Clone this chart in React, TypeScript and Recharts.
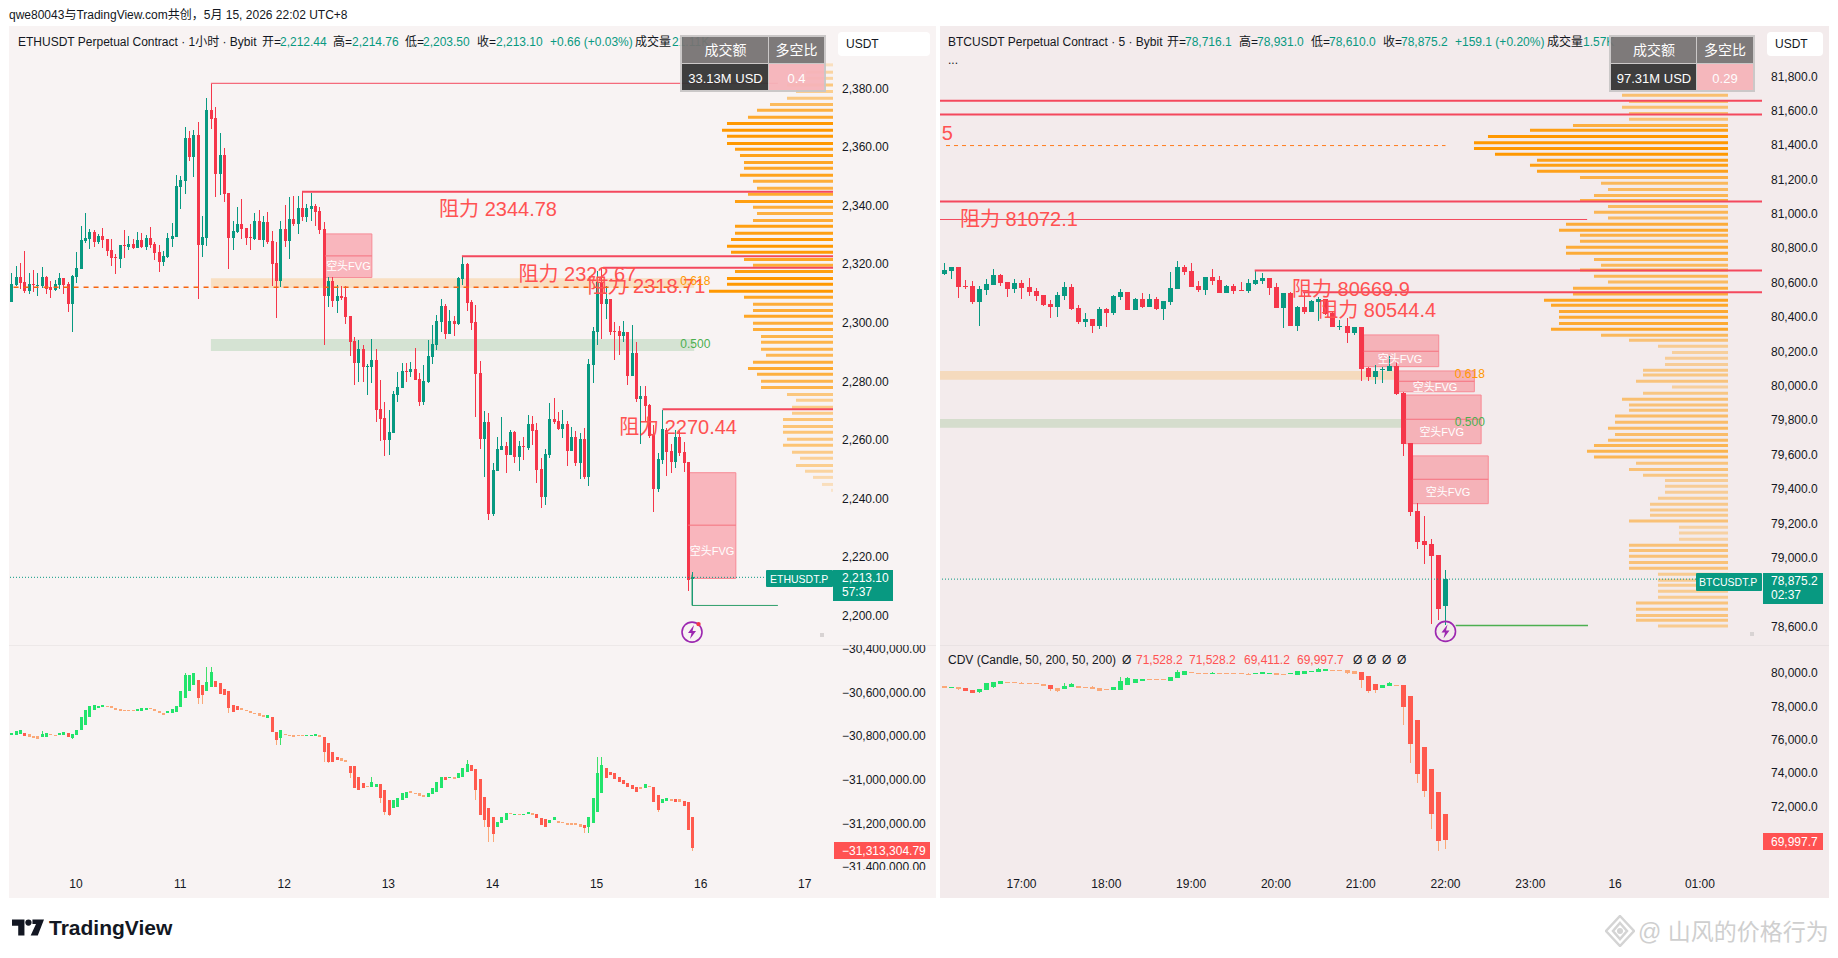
import React from 'react';
import { ComposedChart, Bar, XAxis, YAxis, ReferenceLine, ReferenceArea, ReferenceDot } from 'recharts';

const FONT = "'Liberation Sans','Noto Sans CJK SC',sans-serif";
const RED = '#f5364a';
const GREEN = '#089981';
const LINE = '#f4485d';

// ETH 1h candles: open, high, low, close
const ethOhlc = [
[2307.0,2317.0,2307.0,2313.2],[2312.8,2319.3,2312.5,2315.6],[2315.6,2320.3,2311.5,2313.5],[2313.9,2324.4,2310.1,2310.8],[2310.8,2316.9,2309.8,2313.2],[2313.2,2317.9,2310.4,2312.8],[2312.5,2316.9,2309.1,2312.8],[2312.5,2319.0,2311.8,2315.6],[2315.6,2315.9,2309.8,2311.5],[2312.1,2314.2,2308.4,2311.1],
[2311.1,2314.5,2310.8,2313.2],[2312.8,2316.9,2311.5,2315.2],[2315.2,2315.2,2309.8,2312.8],[2313.2,2313.9,2303.6,2306.3],[2306.3,2316.2,2296.8,2315.9],[2315.6,2324.1,2313.5,2318.6],[2318.3,2333.0,2318.3,2328.2],[2327.8,2337.4,2327.2,2328.9],[2328.5,2331.9,2325.1,2330.9],[2330.9,2331.6,2325.8,2327.5],
[2327.5,2330.2,2326.8,2329.6],[2329.6,2332.3,2325.5,2328.2],[2328.5,2328.5,2322.7,2324.4],[2324.8,2328.5,2319.3,2322.0],[2322.4,2323.4,2316.6,2322.0],[2321.7,2326.5,2318.6,2326.5],[2326.5,2331.6,2322.0,2326.1],[2325.8,2329.6,2324.8,2326.8],[2326.8,2328.5,2325.1,2325.5],[2325.5,2330.9,2325.5,2328.2],
[2328.2,2330.6,2325.5,2325.8],[2325.8,2329.9,2324.8,2328.9],[2328.9,2332.6,2325.5,2326.5],[2326.8,2327.5,2321.4,2323.8],[2324.1,2326.5,2317.3,2320.7],[2320.7,2324.4,2319.3,2322.7],[2322.4,2330.6,2322.0,2328.9],[2328.5,2334.0,2325.8,2329.6],[2329.2,2350.4,2329.2,2346.6],[2346.3,2350.0,2338.8,2348.7],
[2348.3,2366.8,2343.9,2363.0],[2363.0,2365.4,2355.2,2356.5],[2356.5,2365.7,2349.7,2364.0],[2364.0,2368.5,2308.0,2326.5],[2326.5,2336.4,2322.4,2329.2],[2328.9,2376.7,2326.1,2372.6],[2372.6,2381.6,2366.1,2369.5],[2369.8,2373.6,2342.9,2350.7],[2350.7,2364.7,2343.6,2357.2],[2357.2,2359.6,2341.2,2343.9],
[2344.2,2344.2,2318.3,2328.9],[2328.9,2334.7,2324.8,2331.3],[2330.9,2339.5,2330.6,2333.7],[2333.7,2342.2,2328.6,2332.0],[2332.3,2332.3,2326.5,2328.9],[2329.3,2333.7,2324.8,2328.9],[2328.6,2337.4,2328.2,2334.7],[2334.7,2338.5,2328.2,2328.2],[2328.2,2336.4,2325.8,2334.4],[2334.4,2337.8,2326.9,2327.5],
[2327.9,2331.3,2312.5,2320.0],[2320.4,2327.5,2301.6,2314.2],[2314.2,2334.6,2312.2,2332.0],[2332.0,2340.2,2325.8,2327.9],[2327.9,2342.9,2321.7,2335.4],[2335.4,2343.3,2333.0,2333.7],[2333.7,2343.3,2330.3,2339.2],[2339.2,2344.8,2334.7,2336.1],[2336.1,2340.5,2334.4,2339.2],[2338.8,2344.3,2334.7,2339.8],
[2339.8,2340.5,2333.0,2337.8],[2338.1,2339.5,2330.3,2331.6],[2332.0,2334.4,2292.4,2309.1],[2309.1,2315.6,2305.4,2314.2],[2314.2,2315.6,2305.4,2307.4],[2307.4,2312.9,2303.3,2309.1],[2309.1,2312.5,2307.7,2308.4],[2308.8,2312.5,2299.6,2301.9],[2302.3,2302.3,2288.6,2293.4],[2293.7,2295.1,2278.7,2286.2],
[2286.2,2294.1,2279.7,2291.0],[2291.0,2292.4,2279.7,2284.9],[2284.9,2285.9,2275.3,2285.2],[2284.9,2294.4,2279.4,2287.3],[2287.3,2291.0,2266.1,2270.2],[2270.5,2280.4,2259.6,2267.1],[2267.5,2272.9,2254.5,2260.0],[2260.0,2270.2,2254.8,2262.7],[2262.3,2276.7,2262.3,2275.7],[2275.3,2283.2,2272.9,2278.0],
[2277.7,2286.2,2277.7,2283.5],[2283.5,2286.2,2279.7,2283.2],[2283.2,2286.6,2281.5,2284.2],[2284.2,2291.4,2280.4,2280.4],[2280.8,2282.8,2271.6,2272.9],[2272.9,2285.6,2271.9,2280.1],[2279.7,2294.1,2279.4,2288.6],[2288.3,2299.2,2285.9,2292.7],[2292.4,2302.6,2290.7,2300.6],[2300.2,2308.1,2296.8,2305.7],
[2305.7,2306.4,2294.4,2296.1],[2296.1,2304.3,2296.1,2300.6],[2300.6,2302.3,2295.5,2299.6],[2299.6,2315.6,2299.2,2315.3],[2314.9,2322.4,2312.9,2320.0],[2320.0,2320.4,2304.0,2306.7],[2307.0,2307.7,2297.5,2299.9],[2300.2,2306.0,2267.8,2282.5],[2282.8,2286.9,2256.8,2260.3],[2260.3,2269.8,2247.3,2266.1],
[2266.1,2269.1,2232.6,2234.7],[2234.7,2252.1,2234.0,2249.7],[2249.3,2260.9,2249.3,2256.8],[2256.5,2267.8,2256.5,2257.9],[2257.9,2259.2,2248.7,2254.8],[2254.8,2263.3,2254.8,2262.6],[2262.6,2263.0,2252.1,2254.1],[2254.1,2259.6,2249.3,2257.9],[2257.9,2260.9,2253.1,2257.5],[2257.2,2268.5,2256.5,2265.4],
[2265.4,2268.1,2258.2,2263.0],[2263.3,2265.7,2245.2,2249.7],[2250.0,2253.8,2236.7,2240.5],[2240.5,2256.8,2237.7,2255.1],[2254.8,2272.6,2253.8,2267.1],[2267.1,2274.3,2265.4,2266.1],[2266.4,2269.5,2263.3,2263.7],[2263.7,2270.2,2260.6,2265.4],[2265.4,2266.4,2251.0,2256.2],[2256.2,2264.4,2256.2,2260.9],
[2260.9,2263.0,2251.0,2252.1],[2252.1,2262.3,2246.6,2260.3],[2260.3,2264.0,2246.6,2247.3],[2247.3,2287.6,2244.2,2285.9],[2285.5,2298.5,2279.4,2297.1],[2296.8,2317.6,2292.4,2313.9],[2313.9,2318.7,2294.4,2306.4],[2306.4,2312.5,2301.2,2308.1],[2308.1,2308.1,2295.8,2296.8],[2297.1,2300.2,2287.2,2296.8],
[2297.1,2298.8,2288.9,2295.4],[2295.4,2300.5,2293.4,2296.8],[2296.8,2296.8,2278.7,2281.8],[2281.8,2299.2,2281.8,2289.6],[2289.6,2293.4,2272.9,2273.9],[2273.9,2278.4,2258.6,2274.9],[2274.9,2278.4,2266.4,2271.5],[2271.9,2272.2,2260.6,2261.3],[2261.6,2265.0,2235.3,2243.2],[2243.2,2255.5,2242.2,2253.4],
[2253.1,2270.2,2251.7,2263.7],[2263.3,2264.0,2247.6,2255.8],[2256.2,2258.6,2248.7,2252.4],[2252.4,2263.3,2250.4,2260.9],[2260.9,2263.0,2254.5,2255.5],[2255.8,2259.2,2249.0,2252.1],[2252.4,2252.4,2208.4,2212.1],[2212.44,2214.76,2203.5,2213.1],
];

// ETH CDV candles, in millions
const cdvEth = [
[-30.796,-30.784,-30.796,-30.784],[-30.794,-30.776,-30.794,-30.776],[-30.790,-30.771,-30.790,-30.774],[-30.784,-30.784,-30.799,-30.799],[-30.790,-30.790,-30.802,-30.802],[-30.799,-30.799,-30.807,-30.807],[-30.799,-30.799,-30.811,-30.811],[-30.805,-30.776,-30.805,-30.790],[-30.802,-30.784,-30.802,-30.784],[-30.790,-30.790,-30.796,-30.796],
[-30.793,-30.793,-30.799,-30.799],[-30.796,-30.787,-30.796,-30.787],[-30.796,-30.781,-30.796,-30.781],[-30.787,-30.787,-30.805,-30.805],[-30.810,-30.790,-30.813,-30.790],[-30.796,-30.771,-30.796,-30.771],[-30.774,-30.713,-30.774,-30.713],[-30.748,-30.680,-30.748,-30.680],[-30.713,-30.661,-30.713,-30.661],[-30.680,-30.658,-30.680,-30.658],
[-30.673,-30.660,-30.673,-30.660],[-30.667,-30.658,-30.667,-30.658],[-30.661,-30.661,-30.666,-30.666],[-30.664,-30.664,-30.670,-30.670],[-30.670,-30.670,-30.680,-30.680],[-30.677,-30.677,-30.684,-30.684],[-30.680,-30.680,-30.686,-30.686],[-30.680,-30.680,-30.686,-30.686],[-30.681,-30.681,-30.684,-30.684],[-30.684,-30.677,-30.684,-30.677],
[-30.683,-30.673,-30.683,-30.673],[-30.680,-30.672,-30.680,-30.672],[-30.673,-30.673,-30.677,-30.677],[-30.677,-30.677,-30.686,-30.686],[-30.686,-30.686,-30.695,-30.695],[-30.692,-30.692,-30.703,-30.703],[-30.695,-30.687,-30.695,-30.687],[-30.693,-30.677,-30.693,-30.677],[-30.689,-30.661,-30.689,-30.661],[-30.667,-30.592,-30.667,-30.592],
[-30.626,-30.511,-30.626,-30.519],[-30.591,-30.519,-30.591,-30.519],[-30.565,-30.511,-30.565,-30.511],[-30.542,-30.542,-30.652,-30.626],[-30.565,-30.565,-30.652,-30.611],[-30.595,-30.485,-30.595,-30.550],[-30.573,-30.485,-30.573,-30.508],[-30.545,-30.545,-30.573,-30.573],[-30.557,-30.557,-30.606,-30.606],[-30.585,-30.585,-30.611,-30.611],
[-30.595,-30.595,-30.692,-30.672],[-30.657,-30.657,-30.690,-30.690],[-30.661,-30.661,-30.680,-30.680],[-30.672,-30.672,-30.680,-30.680],[-30.680,-30.680,-30.687,-30.687],[-30.686,-30.686,-30.695,-30.695],[-30.692,-30.692,-30.698,-30.698],[-30.695,-30.695,-30.707,-30.707],[-30.703,-30.703,-30.713,-30.713],[-30.718,-30.704,-30.718,-30.704],
[-30.713,-30.713,-30.779,-30.779],[-30.779,-30.779,-30.840,-30.817],[-30.810,-30.771,-30.840,-30.771],[-30.790,-30.790,-30.796,-30.796],[-30.794,-30.794,-30.799,-30.799],[-30.796,-30.796,-30.802,-30.802],[-30.796,-30.796,-30.799,-30.799],[-30.796,-30.796,-30.800,-30.800],[-30.800,-30.796,-30.800,-30.796],[-30.799,-30.794,-30.799,-30.794],
[-30.799,-30.790,-30.799,-30.790],[-30.796,-30.796,-30.805,-30.805],[-30.802,-30.802,-30.917,-30.871],[-30.833,-30.833,-30.921,-30.917],[-30.871,-30.871,-30.917,-30.917],[-30.894,-30.894,-30.909,-30.909],[-30.901,-30.901,-30.912,-30.912],[-30.909,-30.909,-30.917,-30.917],[-30.937,-30.937,-30.993,-30.970],[-30.937,-30.937,-31.039,-31.039],
[-30.986,-30.986,-31.047,-31.047],[-31.013,-31.013,-31.039,-31.039],[-31.028,-31.028,-31.035,-31.035],[-31.032,-30.989,-31.032,-31.009],[-31.032,-31.019,-31.032,-31.019],[-31.021,-31.021,-31.108,-31.085],[-31.047,-31.047,-31.162,-31.146],[-31.093,-31.093,-31.166,-31.162],[-31.131,-31.093,-31.131,-31.093],[-31.123,-31.085,-31.123,-31.085],
[-31.093,-31.059,-31.093,-31.059],[-31.085,-31.054,-31.085,-31.054],[-31.053,-31.053,-31.062,-31.062],[-31.059,-31.059,-31.065,-31.065],[-31.062,-31.062,-31.074,-31.074],[-31.070,-31.070,-31.077,-31.077],[-31.077,-31.062,-31.077,-31.062],[-31.065,-31.039,-31.065,-31.039],[-31.054,-31.009,-31.054,-31.009],[-31.039,-30.986,-31.039,-30.986],
[-30.986,-30.986,-31.001,-31.001],[-30.993,-30.986,-30.993,-30.986],[-30.989,-30.989,-30.995,-30.995],[-30.993,-30.970,-30.993,-30.970],[-30.986,-30.947,-30.986,-30.947],[-30.963,-30.909,-30.963,-30.927],[-30.932,-30.932,-30.958,-30.958],[-30.952,-30.952,-31.093,-31.047],[-30.996,-30.996,-31.162,-31.162],[-31.077,-31.077,-31.215,-31.184],
[-31.131,-31.131,-31.284,-31.215],[-31.169,-31.169,-31.284,-31.249],[-31.215,-31.192,-31.215,-31.192],[-31.200,-31.169,-31.200,-31.169],[-31.184,-31.151,-31.184,-31.151],[-31.151,-31.151,-31.157,-31.157],[-31.162,-31.157,-31.162,-31.157],[-31.158,-31.158,-31.163,-31.163],[-31.160,-31.157,-31.160,-31.157],[-31.158,-31.148,-31.158,-31.148],
[-31.154,-31.154,-31.163,-31.163],[-31.158,-31.158,-31.177,-31.177],[-31.177,-31.177,-31.207,-31.207],[-31.181,-31.181,-31.215,-31.215],[-31.200,-31.184,-31.200,-31.184],[-31.184,-31.169,-31.184,-31.169],[-31.188,-31.188,-31.197,-31.197],[-31.192,-31.192,-31.200,-31.200],[-31.197,-31.197,-31.207,-31.207],[-31.197,-31.197,-31.206,-31.206],
[-31.200,-31.200,-31.207,-31.207],[-31.203,-31.203,-31.215,-31.215],[-31.207,-31.207,-31.246,-31.223],[-31.215,-31.169,-31.246,-31.169],[-31.200,-31.085,-31.200,-31.085],[-31.146,-30.894,-31.146,-30.967],[-31.062,-30.894,-31.062,-30.932],[-30.947,-30.947,-30.993,-30.993],[-30.963,-30.963,-30.978,-30.978],[-30.970,-30.970,-30.996,-30.996],
[-30.986,-30.986,-31.009,-31.009],[-31.001,-31.001,-31.019,-31.019],[-31.013,-31.013,-31.032,-31.032],[-31.024,-31.024,-31.044,-31.044],[-31.032,-31.032,-31.054,-31.054],[-31.032,-31.032,-31.044,-31.044],[-31.039,-31.019,-31.039,-31.019],[-31.028,-31.028,-31.035,-31.035],[-31.035,-31.035,-31.100,-31.100],[-31.070,-31.070,-31.146,-31.139],
[-31.105,-31.090,-31.105,-31.090],[-31.096,-31.085,-31.096,-31.085],[-31.090,-31.090,-31.096,-31.096],[-31.088,-31.088,-31.102,-31.102],[-31.090,-31.090,-31.102,-31.102],[-31.096,-31.096,-31.120,-31.120],[-31.103,-31.103,-31.230,-31.230],[-31.169,-31.169,-31.325,-31.3133],
];

// BTC 5m candles: open, high, low, close
const btcOhlc = [
[80650,80714,80645,80674],[80668,80691,80621,80691],[80691,80691,80511,80575],[80581,80616,80563,80575],[80581,80610,80476,80488],[80488,80581,80348,80563],[80557,80621,80528,80592],[80586,80679,80586,80645],[80645,80650,80581,80598],[80604,80604,80517,80563],
[80563,80621,80540,80598],[80598,80616,80505,80569],[80575,80627,80522,80546],[80552,80569,80493,80522],[80528,80528,80464,80470],[80476,80499,80395,80458],[80458,80546,80400,80528],[80522,80604,80499,80575],[80575,80592,80441,80447],[80453,80470,80360,80371],
[80371,80424,80342,80389],[80389,80389,80307,80348],[80348,80458,80331,80447],[80447,80453,80342,80424],[80424,80528,80412,80522],[80517,80563,80499,80546],[80546,80546,80441,80441],[80441,80511,80441,80505],[80505,80540,80453,80458],[80458,80534,80458,80505],
[80505,80517,80441,80447],[80447,80493,80383,80493],[80488,80662,80470,80569],[80563,80726,80563,80691],[80691,80703,80645,80662],[80668,80714,80575,80575],[80581,80610,80546,80557],[80557,80633,80528,80633],[80633,80679,80586,80610],[80616,80639,80540,80540],
[80540,80586,80540,80581],[80581,80592,80534,80552],[80557,80604,80553,80553],[80552,80621,80540,80598],[80592,80669,80586,80616],[80610,80656,80592,80627],[80627,80627,80528,80569],[80575,80598,80453,80453],[80453,80540,80336,80540],[80540,80546,80348,80348],
[80348,80464,80319,80458],[80458,80544,80418,80429],[80429,80499,80429,80493],[80488,80517,80377,80505],[80505,80505,80412,80418],[80424,80429,80342,80342],[80342,80383,80324,80348],[80348,80395,80249,80307],[80307,80342,80296,80342],[80342,80342,80028,80098],
[80104,80110,80028,80051],[80051,80121,80011,80086],[80092,80110,80016,80098],[80086,80173,80086,80115],[80115,80144,79947,79952],[79958,79964,79592,79662],[79668,79668,79243,79266],[79272,79319,79051,79092],[79098,79243,78964,79074],[79080,79109,78615,79010],
[79016,79016,78638,78702],[78716.1,78931.0,78610.0,78875.2],
];

const cdvBtc = [
[79203,79203,79103,79103],[79143,79183,79143,79183],[79143,79163,78984,79023],[79103,79103,78904,78904],[78984,78984,78784,78784],[78864,79063,78784,79063],[78984,79382,78964,79382],[79143,79482,79123,79482],[79342,79542,79342,79542],[79442,79442,79402,79402],
[79442,79442,79402,79402],[79422,79442,79402,79410],[79402,79402,79382,79382],[79382,79382,79342,79362],[79342,79342,79223,79223],[79283,79283,78904,79023],[79103,79103,78884,78944],[79023,79402,79023,79243],[79143,79422,79143,79342],[79223,79243,79103,79103],
[79183,79183,79083,79083],[79183,79203,79043,79043],[79103,79103,78924,78924],[79043,79043,79003,79003],[78984,79183,78984,79183],[78984,79781,78964,79542],[79283,79781,79283,79681],[79422,79621,79422,79621],[79502,79661,79502,79661],[79641,79650,79621,79630],
[79630,79640,79610,79621],[79621,79621,79581,79581],[79542,79781,79542,79781],[79681,80199,79681,80080],[79880,80120,79880,80120],[80070,80080,80050,80060],[80030,80040,80010,80020],[80020,80030,80000,80010],[80030,80050,80020,80040],[80030,80030,80010,80020],
[80010,80010,79990,80000],[80000,80010,79990,79990],[79990,80000,79970,79980],[79980,79990,79950,79960],[80000,80040,80000,80040],[79960,80080,79960,80080],[80030,80040,80000,80040],[80020,80020,79880,79880],[79970,79980,79940,79950],[79980,80000,79970,80000],
[79920,80120,79920,80120],[79980,80140,79980,80140],[80060,80159,80060,80159],[80100,80299,80100,80239],[80120,80259,80120,80259],[80180,80190,80160,80170],[80180,80190,80170,80179],[80179,80179,79980,80040],[80120,80120,79960,79980],[80060,80060,79103,79581],
[79820,79820,78784,78904],[79342,79342,78784,78964],[79123,79302,79123,79302],[79203,79442,79203,79402],[79302,79302,79203,79203],[79283,79283,76911,77947],[78605,78605,74599,75735],[77190,77190,73403,73961],[75556,75556,72566,72945],[74260,74260,70653,71570],
[72885,72885,69337,69935],[71528.2,71528.2,69411.2,69997.7],
];

// Volume profile rows: price, relative volume
const vpEth = [
[2388.0,10],[2385.5,27],[2383.4,27],[2381.1,46],[2378.9,37],[2376.6,46],[2374.5,63],[2372.5,76],[2370.1,85],[2368.0,106],[2365.7,111],[2363.6,106],[2361.2,106],[2359.2,98],[2357.1,93],[2354.7,89],[2352.7,89],[2350.3,93],[2348.3,80],[2345.9,76],[2343.8,85],[2341.4,98],[2339.4,80],[2337.3,76],[2334.9,80],[2332.9,98],[2330.5,98],[2328.4,102],[2326.1,106],[2324.0,102],[2321.6,89],[2319.6,80],[2317.5,98],[2315.1,106],[2313.1,106],[2310.7,124],[2308.7,89],[2306.3,80],[2304.2,80],[2302.2,89],[2299.8,80],[2297.7,80],[2295.3,72],[2293.3,72],[2290.9,72],[2288.9,67],[2286.5,80],[2284.4,85],[2282.4,76],[2280.0,72],[2277.9,72],[2275.5,46],[2273.5,37],[2271.1,41],[2269.1,41],[2267.0,50],[2264.6,50],[2262.6,50],[2260.2,46],[2258.2,50],[2255.8,41],[2253.7,33],[2251.3,37],[2249.3,28],[2247.2,20],[2244.8,11],[2242.8,2],
];
const vpBtc = [
[81690,106],[81654,99],[81620,106],[81584,99],[81550,99],[81514,155],[81486,198],[81450,240],[81414,254],[81380,254],[81346,233],[81312,191],[81282,198],[81248,191],[81212,148],[81178,127],[81141,120],[81107,134],[81077,148],[81043,120],[81009,134],[80975,120],[80939,162],[80905,169],[80875,148],[80841,148],[80805,162],[80771,162],[80735,134],[80701,127],[80673,148],[80637,134],[80603,120],[80567,155],[80533,155],[80497,184],[80468,177],[80432,169],[80398,169],[80362,169],[80328,177],[80294,127],[80264,99],[80230,70],[80194,56],[80160,63],[80124,63],[80090,85],[80062,85],[80026,92],[79992,56],[79956,85],[79922,106],[79888,99],[79858,99],[79824,113],[79787,113],[79753,120],[79717,113],[79683,120],[79653,134],[79619,141],[79585,134],[79549,92],[79513,99],[79479,85],[79449,63],[79415,63],[79381,63],[79345,70],[79311,78],[79277,78],[79247,78],[79213,99],[79177,49],[79143,49],[79107,49],[79072,99],[79042,99],[79008,99],[78972,99],[78938,99],[78904,70],[78868,70],[78840,70],[78804,70],[78770,70],[78736,92],[78700,92],[78664,92],[78636,92],[78602,70],
];

// Axis ticks
const ethPriceTicks = [2200,2220,2240,2260,2280,2300,2320,2340,2360,2380];
const btcPriceTicks = [78600,78800,79000,79200,79400,79600,79800,80000,80200,80400,80600,80800,81000,81200,81400,81600,81800];
const ethCdvTicks = [-30.4,-30.6,-30.8,-31.0,-31.2,-31.4];
const btcCdvTicks = [72000,74000,76000,78000,80000];
const ethDayTicks = [0,24,48,72,96,120,144,168];
const ethDayLabels = ['10','11','12','13','14','15','16','17'];
const btcHourTicks = [0,1,2,3,4,5,6,7,8];
const btcHourLabels = ['17:00','18:00','19:00','20:00','21:00','22:00','23:00','16','01:00'];

// Time of first candle relative to axis origin, and drawing windows
const ethX: [number, number] = [-15.45, 174.5];
const btcX: [number, number] = [-0.961, 8.732];
const ethY: [number, number] = [2190.0, 2401.26];
const btcY: [number, number] = [78492, 82092.5];
const ethCdvY: [number, number] = [-31.414, -30.382];
const btcCdvY: [number, number] = [68177, 81692];

// Where the volume profile starts on the time axis, and time per volume unit
const vpEthBase = 174.5;
const vpEthUnit = 1 / 4.3375;
const vpBtcBase = 8.331;
const vpBtcUnit = 1 / 84.8;

// FVG boxes: t1, t2, top, bottom, middle, label t, label price
const fvgEth = [
  [57.4,68.2,2330.3,2315.4,2322.8,62.8,2319.4],
  [141.1,152.1,2248.8,2212.7,2230.9,146.6,2221.9],
];
const fvgBtc = [
  [4.035,4.92,80295.6,80111,80200.6,4.463,80157],
  [4.448,5.34,80086,79965,80026,4.876,79995],
  [4.53,5.42,79946,79663,79805,4.955,79733],
  [4.613,5.504,79592,79314,79456,5.03,79384],
];

const ethTable = ethOhlc.map(([o,h,l,c],i)=>({t:i-15,o,h,l,c}));
const ethCdvTable = cdvEth.map(([o,h,l,c],i)=>({t:i-15,o,h,l,c}));
const btcTable = btcOhlc.map(([o,h,l,c],i)=>({t:5-(71-i)/12,o,h,l,c}));
const btcCdvTable = cdvBtc.map(([o,h,l,c],i)=>({t:5-(71-i)/12,o,h,l,c}));

const range = (d:any)=>[d.l,d.h];

function candle(bodyW:number){
  return (p:any)=>{
    const {x,y,width,height,payload:d}=p;
    const cx=Math.round(x+width/2);
    const k=d.h>d.l?height/(d.h-d.l):0;
    const Y=(v:number)=>y+(d.h-v)*k;
    const up=d.c>=d.o;
    const col=up?GREEN:RED;
    const top=Y(Math.max(d.o,d.c));
    const h=Math.max(1,Y(Math.min(d.o,d.c))-top);
    return <g shapeRendering="crispEdges">
      <rect x={cx} y={y} width={1} height={Math.max(1,height)} fill={col}/>
      <rect x={cx-Math.floor(bodyW/2)} y={top} width={bodyW} height={h} fill={col}/>
    </g>;
  };
}
function cdvCandle(bodyW:number){
  return (p:any)=>{
    const {x,y,width,height,payload:d}=p;
    const cx=Math.round(x+width/2);
    const k=d.h>d.l?height/(d.h-d.l):0;
    const Y=(v:number)=>y+(d.h-v)*k;
    const up=d.c>=d.o;
    const top=Y(Math.max(d.o,d.c));
    const h=Math.max(1,Y(Math.min(d.o,d.c))-top);
    return <g shapeRendering="crispEdges">
      <rect x={cx} y={y} width={1} height={Math.max(1,height)} fill={up?'#3fe06a':'#fba878'}/>
      <rect x={cx-Math.floor(bodyW/2)} y={top} width={bodyW} height={h} fill={up?'#22e46c':(h<3?'#fba878':'#ff5a4e')}/>
    </g>;
  };
}
const tickStyle={fill:'#131722',fontSize:12,fontFamily:FONT};
const fmt2=(v:number)=>v.toLocaleString('en-US',{minimumFractionDigits:2,maximumFractionDigits:2});
const fmt1=(v:number)=>v.toLocaleString('en-US',{minimumFractionDigits:1,maximumFractionDigits:1});
const fmtM=(v:number)=>'\u2212'+fmt2(Math.abs(v)*1e6);

function vpOpacity(v:number,max:number){return 0.16+0.84*Math.min(1,Math.pow(v/(0.85*max),1.15));}

const Txt=({x,y,c='#131722',s=12,w,children,center}:any)=>(
  <div style={{position:'absolute',left:x,top:y,transform:center?'translate(-50%,-50%)':'translateY(-50%)',color:c,fontSize:s,fontWeight:w,fontFamily:FONT,whiteSpace:'nowrap',lineHeight:1}}>{children}</div>
);
const Box=({x,y,w,h,bg,r,style}:any)=>(
  <div style={{position:'absolute',left:x,top:y,width:w,height:h,background:bg,borderRadius:r,...style}}/>
);
const label=(value:string,fill:string,fontSize:number,position:any='right')=>({value,fill,fontSize,fontFamily:FONT,position,offset:0});

const Bolt=(dotted:boolean)=>(p:any)=>{
  const {cx,cy}=p;
  return <g>
    <circle cx={cx} cy={cy} r={10} fill="none" stroke="#9c27b0" strokeWidth={1.6}/>
    <path d={`M${cx+2} ${cy-7} L${cx-4} ${cy+1} L${cx-0.5} ${cy+1} L${cx-2} ${cy+7} L${cx+4} ${cy-1} L${cx+0.5} ${cy-1} Z`} fill="#9c27b0"/>
    {dotted?<circle cx={cx+6.5} cy={cy-8} r={2.2} fill="#f23645"/>:null}
  </g>;
};

const InfoTable=({x,y,split,right,bottom,vol,ratio}:any)=>(
  <div style={{position:'absolute',left:x,top:y,width:right-x,height:bottom-y,opacity:0.94,fontFamily:FONT}}>
    <Box x={-2} y={-2} w={right-x+4} h={bottom-y+4} bg="#c9c6c6"/>
    <Box x={0} y={0} w={split-x-1} h={26} bg="#777373"/>
    <Box x={split-x} y={0} w={right-split} h={26} bg="#777373"/>
    <Box x={0} y={27} w={split-x-1} h={bottom-y-27} bg="#333333"/>
    <Box x={split-x} y={27} w={right-split} h={bottom-y-27} bg="#f6b4ba"/>
    <Txt x={(split-x)/2} y={13} c="#fff" s={14} center>成交额</Txt>
    <Txt x={(split-x)+(right-split)/2} y={13} c="#fff" s={14} center>多空比</Txt>
    <Txt x={(split-x)/2} y={41} c="#fff" s={13} center>{vol}</Txt>
    <Txt x={(split-x)+(right-split)/2} y={41} c="#fff" s={13} center>{ratio}</Txt>
  </div>
);

const XStrip=({left,width,rightW,domain,ticks,labels}:any)=>(
  <div style={{position:'absolute',left,top:870}}>
    <ComposedChart width={width} height={28} data={[{t:ticks[0],v:0}]} margin={{top:0,right:rightW,bottom:0,left:0}}>
      <XAxis dataKey="t" type="number" domain={domain} allowDataOverflow ticks={ticks} interval={0} height={27} axisLine={false} tickLine={false} tickSize={0} tickMargin={8}
        tick={tickStyle} tickFormatter={(v:number)=>labels[ticks.indexOf(v)]}/>
      <YAxis hide domain={[0,1]}/>
      <Bar dataKey="v" isAnimationActive={false} fill="none"/>
    </ComposedChart>
  </div>
);

export default function App(){
  const maxE=Math.max(...vpEth.map(r=>r[1]));
  const maxB=Math.max(...vpBtc.map(r=>r[1]));
  return (
  <div style={{position:'fixed',left:0,top:0,width:1838,height:958,background:'#fff',overflow:'hidden'}}>
    <Txt x={9} y={15}>qwe80043与TradingView.com共创，5月 15, 2026 22:02 UTC+8</Txt>
    <Box x={9} y={26} w={927} h={872} bg="#f8f3f3"/>
    <Box x={940} y={26} w={889} h={872} bg="#f3ebec"/>
    <Box x={9} y={645} w={927} h={1} bg="#ede8e8"/>
    <Box x={940} y={645} w={889} h={1} bg="#e9e2e3"/>

    {/* ETH price pane */}
    <div style={{position:'absolute',left:9,top:26}}>
      <ComposedChart width={927} height={619} data={ethTable} margin={{top:0,right:0,bottom:0,left:0}}>
        <XAxis dataKey="t" type="number" domain={ethX} allowDataOverflow hide/>
        <YAxis orientation="right" width={103} domain={ethY} allowDataOverflow ticks={ethPriceTicks} interval={0} axisLine={false} tickLine={false} tickSize={0} tickMargin={9} tick={tickStyle} tickFormatter={fmt2}/>
        <ReferenceArea x1={31.1} x2={142.5} y1={2315.2} y2={2311.8} fill="#f9dfc2" fillOpacity={1} stroke="none"/>
        <ReferenceArea x1={31.1} x2={142.5} y1={2294.4} y2={2290.3} fill="#d5e3d3" fillOpacity={1} stroke="none"/>
        {fvgEth.map((f,i)=><ReferenceArea key={'fa'+i} x1={f[0]} x2={f[1]} y1={f[2]} y2={f[3]} fill="#f9b6bd" fillOpacity={1} stroke="#f78a95"/>)}
        {fvgEth.map((f,i)=><ReferenceLine key={'fl'+i} segment={[{x:f[0],y:f[4]},{x:f[1],y:f[4]}]} stroke="#f5727f"/>)}
        {vpEth.map((r,i)=><ReferenceLine key={'vp'+i} segment={[{x:vpEthBase,y:r[0]},{x:vpEthBase-r[1]*vpEthUnit,y:r[0]}]} stroke="#ff9800" strokeOpacity={vpOpacity(r[1],maxE)} strokeWidth={3}/>)}
        <ReferenceLine segment={[{x:-14.4,y:2312.1},{x:142,y:2312.1}]} stroke="#f7650f" strokeWidth={1.5} strokeDasharray="5 5"/>
        <ReferenceLine y={2213.1} stroke={GREEN} strokeDasharray="1 2"/>
        <Bar dataKey={range} barSize={3} shape={candle(3)} isAnimationActive={false}/>
        <ReferenceLine isFront segment={[{x:31.1,y:2381.7},{x:161.8,y:2381.7}]} stroke={LINE}/>
        <ReferenceLine isFront segment={[{x:52.1,y:2344.7},{x:174.5,y:2344.7}]} stroke={LINE} strokeWidth={2}/>
        <ReferenceLine isFront segment={[{x:88.96,y:2322.67},{x:174.5,y:2322.67}]} stroke={LINE} strokeWidth={2}/>
        <ReferenceLine isFront segment={[{x:121.5,y:2318.71},{x:174.5,y:2318.71}]} stroke={LINE} strokeWidth={2}/>
        <ReferenceLine isFront segment={[{x:135.2,y:2270.44},{x:174.5,y:2270.44}]} stroke={LINE} strokeWidth={2}/>
        <ReferenceLine isFront segment={[{x:142,y:2214},{x:142,y:2203.5}]} stroke="#2e9e6a"/>
        <ReferenceLine isFront segment={[{x:142,y:2203.5},{x:161.8,y:2203.5}]} stroke="#2e9e6a"/>
        <ReferenceDot isFront x={83.7} y={2338.8} r={0} label={label('阻力 2344.78','#ff5252',20)}/>
        <ReferenceDot isFront x={102} y={2316.6} r={0} label={label('阻力 2322.67','#ff5252',20)}/>
        <ReferenceDot isFront x={117.9} y={2312.5} r={0} label={label('阻力 2318.71','#ff5252',20)}/>
        <ReferenceDot isFront x={125.2} y={2264.4} r={0} label={label('阻力 2270.44','#ff5252',20)}/>
        <ReferenceDot isFront x={139.3} y={2314.2} r={0} label={label('0.618','#ff9800',12)}/>
        <ReferenceDot isFront x={139.3} y={2292.7} r={0} label={label('0.500','#4caf50',12)}/>
        {fvgEth.map((f,i)=><ReferenceDot isFront key={'ft'+i} x={f[5]} y={f[6]} r={0} label={label('空头FVG','#ffffff',11,'center')}/>)}
        <ReferenceDot isFront x={142} y={2194.4} r={10} shape={Bolt(true)}/>
      </ComposedChart>
    </div>

    {/* ETH CDV pane */}
    <div style={{position:'absolute',left:9,top:645}}>
      <ComposedChart width={927} height={225} data={ethCdvTable} margin={{top:0,right:0,bottom:0,left:0}}>
        <XAxis dataKey="t" type="number" domain={ethX} allowDataOverflow hide/>
        <YAxis orientation="right" width={103} domain={ethCdvY} allowDataOverflow ticks={ethCdvTicks} interval={0} axisLine={false} tickLine={false} tickSize={0} tickMargin={9} tick={tickStyle} tickFormatter={fmtM}/>
        <Bar dataKey={range} barSize={3} shape={cdvCandle(3)} isAnimationActive={false}/>
      </ComposedChart>
    </div>
    <XStrip left={9} width={927} rightW={103} domain={ethX} ticks={ethDayTicks} labels={ethDayLabels}/>

    {/* BTC price pane */}
    <div style={{position:'absolute',left:940,top:26}}>
      <ComposedChart width={889} height={619} data={btcTable} margin={{top:0,right:0,bottom:0,left:0}}>
        <XAxis dataKey="t" type="number" domain={btcX} allowDataOverflow hide/>
        <YAxis orientation="right" width={67} domain={btcY} allowDataOverflow ticks={btcPriceTicks} interval={0} axisLine={false} tickLine={false} tickSize={0} tickMargin={9} tick={tickStyle} tickFormatter={fmt1}/>
        <ReferenceArea x1={-0.961} x2={5} y1={80086} y2={80035} fill="#f5dabd" fillOpacity={1} stroke="none"/>
        <ReferenceArea x1={-0.961} x2={5} y1={79807} y2={79756} fill="#d5ddcd" fillOpacity={1} stroke="none"/>
        {fvgBtc.map((f,i)=><ReferenceArea key={'fa'+i} x1={f[0]} x2={f[1]} y1={f[2]} y2={f[3]} fill="#f5b2b8" fillOpacity={1} stroke="#f78a95"/>)}
        {fvgBtc.map((f,i)=><ReferenceLine key={'fl'+i} segment={[{x:f[0],y:f[4]},{x:f[1],y:f[4]}]} stroke="#f5727f"/>)}
        {vpBtc.map((r,i)=><ReferenceLine key={'vp'+i} segment={[{x:vpBtcBase,y:r[0]},{x:vpBtcBase-r[1]*vpBtcUnit,y:r[0]}]} stroke="#ff9800" strokeOpacity={vpOpacity(r[1],maxB)} strokeWidth={3}/>)}
        <ReferenceLine y={78875.2} stroke={GREEN} strokeDasharray="1 2"/>
        <ReferenceLine segment={[{x:-0.89,y:81397},{x:5,y:81397}]} stroke="#ff7a1a" strokeDasharray="4 4"/>
        <Bar dataKey={range} barSize={5} shape={candle(5)} isAnimationActive={false}/>
        <ReferenceLine isFront y={81658} stroke={LINE} strokeWidth={2}/>
        <ReferenceLine isFront y={81578} stroke={LINE} strokeWidth={2}/>
        <ReferenceLine isFront y={81072.1} stroke={LINE} strokeWidth={2}/>
        <ReferenceLine isFront segment={[{x:-0.961,y:80967},{x:6.67,y:80967}]} stroke={LINE}/>
        <ReferenceLine isFront segment={[{x:2.75,y:80669.9},{x:8.732,y:80669.9}]} stroke={LINE} strokeWidth={2}/>
        <ReferenceLine isFront segment={[{x:3.32,y:80544.4},{x:8.732,y:80544.4}]} stroke={LINE} strokeWidth={2}/>
        <ReferenceLine isFront segment={[{x:5.12,y:78605},{x:6.68,y:78605}]} stroke="#4caf50" strokeWidth={1.5}/>
        <ReferenceDot isFront x={-0.94} y={81470} r={0} label={label('5','#ff5252',20)}/>
        <ReferenceDot isFront x={-0.725} y={80970} r={0} label={label('阻力 81072.1','#ff5252',20)}/>
        <ReferenceDot isFront x={3.19} y={80563} r={0} label={label('阻力 80669.9','#ff5252',20)}/>
        <ReferenceDot isFront x={3.5} y={80441} r={0} label={label('阻力 80544.4','#ff5252',20)}/>
        <ReferenceDot isFront x={5.11} y={80069} r={0} label={label('0.618','#ff9800',12)}/>
        <ReferenceDot isFront x={5.11} y={79792} r={0} label={label('0.500','#4caf50',12)}/>
        {fvgBtc.map((f,i)=><ReferenceDot isFront key={'ft'+i} x={f[5]} y={f[6]} r={0} label={label('空头FVG','#ffffff',11,'center')}/>)}
        <ReferenceDot isFront x={5} y={78571} r={10} shape={Bolt(false)}/>
      </ComposedChart>
    </div>

    {/* BTC CDV pane */}
    <div style={{position:'absolute',left:940,top:645}}>
      <ComposedChart width={889} height={225} data={btcCdvTable} margin={{top:0,right:0,bottom:0,left:0}}>
        <XAxis dataKey="t" type="number" domain={btcX} allowDataOverflow hide/>
        <YAxis orientation="right" width={67} domain={btcCdvY} allowDataOverflow ticks={btcCdvTicks} interval={0} axisLine={false} tickLine={false} tickSize={0} tickMargin={9} tick={tickStyle} tickFormatter={fmt1}/>
        <Bar dataKey={range} barSize={5} shape={cdvCandle(5)} isAnimationActive={false}/>
      </ComposedChart>
    </div>
    <XStrip left={940} width={889} rightW={67} domain={btcX} ticks={btcHourTicks} labels={btcHourLabels}/>

    {/* ETH legend */}
    <Txt x={18} y={42}>ETHUSDT Perpetual Contract · 1小时 · Bybit</Txt>
    <Txt x={262} y={42}>开=</Txt><Txt x={280} y={42} c={GREEN}>2,212.44</Txt>
    <Txt x={333} y={42}>高=</Txt><Txt x={352} y={42} c={GREEN}>2,214.76</Txt>
    <Txt x={405} y={42}>低=</Txt><Txt x={423} y={42} c={GREEN}>2,203.50</Txt>
    <Txt x={477} y={42}>收=</Txt><Txt x={496} y={42} c={GREEN}>2,213.10</Txt>
    <Txt x={550} y={42} c={GREEN}>+0.66 (+0.03%)</Txt>
    <Txt x={635} y={42}>成交量</Txt><Txt x={672} y={42} c={GREEN}>21.11K</Txt>
    <InfoTable x={682} y={37} split={769} right={824} bottom={90} vol="33.13M USD" ratio="0.4"/>
    <Box x={838} y={32} w={92} h={24} bg="#fff" r={4}/>
    <Txt x={846} y={44}>USDT</Txt>
    <Box x={766} y={570} w={67} h={17} bg={GREEN} r={1}/>
    <Txt x={770} y={579} c="#fff" s={10.5}>ETHUSDT.P</Txt>
    <Box x={833} y={570} w={60} h={31} bg={GREEN}/>
    <Txt x={842} y={578} c="#fff" s={12}>2,213.10</Txt>
    <Txt x={842} y={592} c="#fff" s={12}>57:37</Txt>
    <Box x={820} y={633} w={4} h={4} bg="#d8d3d3"/>
    <Box x={834} y={842} w={96} h={17} bg="#ff5252"/>
    <Txt x={842} y={851} c="#fff" s={12}>−31,313,304.79</Txt>

    {/* BTC legend */}
    <Txt x={948} y={42}>BTCUSDT Perpetual Contract · 5 · Bybit</Txt>
    <Txt x={1167} y={42}>开=</Txt><Txt x={1185} y={42} c={GREEN}>78,716.1</Txt>
    <Txt x={1239} y={42}>高=</Txt><Txt x={1257} y={42} c={GREEN}>78,931.0</Txt>
    <Txt x={1311} y={42}>低=</Txt><Txt x={1329} y={42} c={GREEN}>78,610.0</Txt>
    <Txt x={1383} y={42}>收=</Txt><Txt x={1401} y={42} c={GREEN}>78,875.2</Txt>
    <Txt x={1455} y={42} c={GREEN}>+159.1 (+0.20%)</Txt>
    <Txt x={1547} y={42}>成交量</Txt><Txt x={1583} y={42} c={GREEN}>1.57K</Txt>
    <Txt x={948} y={60}>...</Txt>
    <InfoTable x={1611} y={37} split={1697} right={1753} bottom={90} vol="97.31M USD" ratio="0.29"/>
    <Box x={1767} y={32} w={56} h={24} bg="#fff" r={4}/>
    <Txt x={1775} y={44}>USDT</Txt>
    <Box x={1696} y={573} w={66} h={18} bg={GREEN} r={1}/>
    <Txt x={1699} y={582} c="#fff" s={10.5}>BTCUSDT.P</Txt>
    <Box x={1763} y={573} w={60} h={31} bg={GREEN}/>
    <Txt x={1771} y={581} c="#fff" s={12}>78,875.2</Txt>
    <Txt x={1771} y={595} c="#fff" s={12}>02:37</Txt>
    <Box x={1750} y={632} w={4} h={4} bg="#d8d3d3"/>
    <Box x={1763} y={833} w={60} h={17} bg="#ff5252"/>
    <Txt x={1771} y={842} c="#fff" s={12}>69,997.7</Txt>
    <Txt x={948} y={660}>CDV (Candle, 50, 200, 50, 200)</Txt>
    <Txt x={1122} y={660}>Ø</Txt>
    <Txt x={1136} y={660} c="#ff5252">71,528.2</Txt>
    <Txt x={1189} y={660} c="#ff5252">71,528.2</Txt>
    <Txt x={1244} y={660} c="#ff5252">69,411.2</Txt>
    <Txt x={1297} y={660} c="#ff5252">69,997.7</Txt>
    <Txt x={1353} y={660}>Ø</Txt><Txt x={1367} y={660}>Ø</Txt><Txt x={1382} y={660}>Ø</Txt><Txt x={1397} y={660}>Ø</Txt>

    {/* TradingView mark */}
    <svg style={{position:'absolute',left:12,top:919}} width={32} height={17} viewBox="0 0 36 18">
      <path d="M0 0H14V18H7V7H0Z M23 0 H36 L29 18 H21 L27 5 H23Z" fill="#131722"/>
      <circle cx={18.5} cy={3.5} r={3.5} fill="#131722"/>
    </svg>
    <Txt x={49} y={927} s={21} w={700} c="#131722">TradingView</Txt>

    {/* Watermark */}
    <svg style={{position:'absolute',left:1605,top:915}} width={30} height={32} viewBox="0 0 30 32">
      <path d="M15 1 L29 16 L15 31 L1 16 Z M15 8 L22 16 L15 24 L8 16 Z" fill="none" stroke="#d4d4d4" strokeWidth={2.5}/>
      <circle cx={15} cy={16} r={3} fill="#d4d4d4"/>
    </svg>
    <Txt x={1638} y={932} s={23} c="#cfcfcf">@ 山风的价格行为</Txt>
  </div>
  );
}
